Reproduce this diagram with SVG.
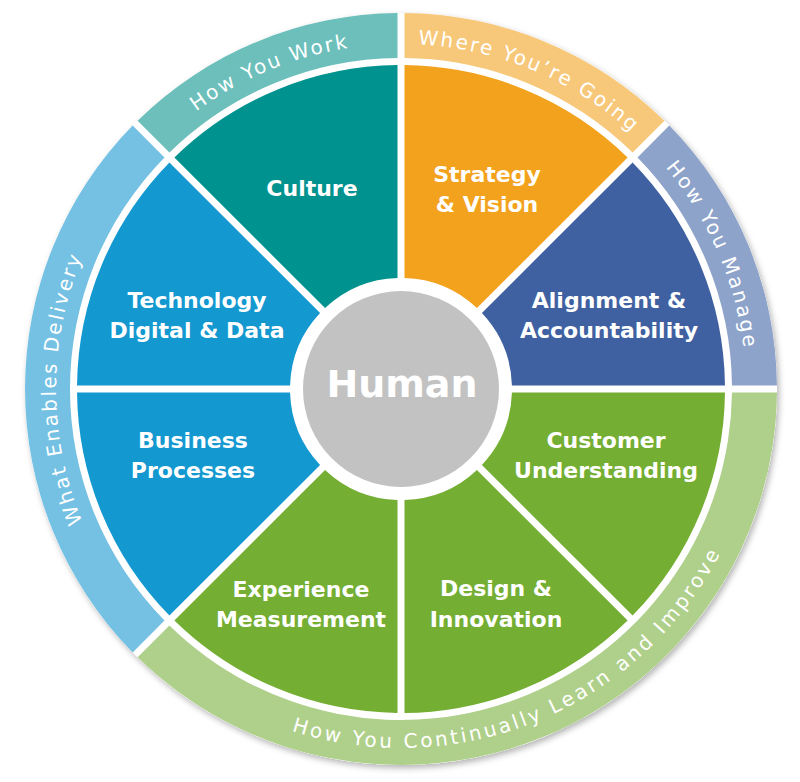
<svg xmlns="http://www.w3.org/2000/svg" width="800" height="782" viewBox="0 0 800 782">
  <defs>
    <filter id="shadow" x="-10%" y="-10%" width="120%" height="120%">
      <feDropShadow dx="2" dy="3" stdDeviation="3" flood-color="#000" flood-opacity="0.3"/>
    </filter>
    <path id="arcWork" d="M 157.05,145.05 A 345 345 0 0 1 401,44"/>
    <path id="arcWhere" d="M 401,44 A 345 345 0 0 1 644.95,145.05"/>
    <path id="arcManage" d="M 644.95,145.05 A 345 345 0 0 1 746,389"/>
    <path id="arcDelivery" d="M 157.05,632.95 A 345 345 0 0 1 157.05,145.05"/>
    <path id="arcLearn" d="M 147.15,642.85 A 359 359 0 0 0 760,389"/>
  </defs>
  <style>
    .lbl { font-family: "DejaVu Sans", "Liberation Sans", sans-serif; font-weight: bold; font-size: 22px; fill: #fff; text-anchor: middle; }
    .ring { font-family: "DejaVu Sans", "Liberation Sans", sans-serif; font-size: 20px; fill: #fff; letter-spacing: 2.2px; }
    .ring-b { font-family: "DejaVu Sans", "Liberation Sans", sans-serif; font-size: 20px; fill: #fff; letter-spacing: 2.9px; }
    .human { font-family: "DejaVu Sans", "Liberation Sans", sans-serif; font-weight: bold; font-size: 38px; fill: #fff; text-anchor: middle; }
  </style>
  <rect width="800" height="782" fill="#fff"/>
  <circle cx="401" cy="389" r="376" fill="#fff" filter="url(#shadow)"/>

  <g id="ring-how-you-work">
    <path d="M 137.62,120.67 A 376 376 0 0 1 397.5,13.02 L 397.5,58.02 A 331 331 0 0 0 169.44,152.49 Z" fill="#6CBFBB"/>
    <text class="ring"><textPath href="#arcWork" startOffset="50%" text-anchor="middle">How You Work</textPath></text>
  </g>
  <g id="ring-where-youre-going">
    <path d="M 404.5,13.02 A 376 376 0 0 1 664.38,120.67 L 632.56,152.49 A 331 331 0 0 0 404.5,58.02 Z" fill="#F8C87A"/>
    <text class="ring"><textPath href="#arcWhere" startOffset="50%" text-anchor="middle">Where You’re Going</textPath></text>
  </g>
  <g id="ring-how-you-manage">
    <path d="M 669.33,125.62 A 376 376 0 0 1 776.98,385.5 L 731.98,385.5 A 331 331 0 0 0 637.51,157.44 Z" fill="#8DA3CA"/>
    <text class="ring"><textPath href="#arcManage" startOffset="138.7" text-anchor="end">How You&#160;</textPath></text>
    <text class="ring"><textPath href="#arcManage" startOffset="138.7" text-anchor="start">Manage</textPath></text>
  </g>
  <g id="ring-learn-improve">
    <path d="M 776.98,392.5 A 376 376 0 0 1 137.62,657.33 L 169.44,625.51 A 331 331 0 0 0 731.98,392.5 Z" fill="#AFD08A"/>
    <text class="ring-b"><textPath href="#arcLearn" startOffset="438.8" text-anchor="end">How You Continually&#160;</textPath></text>
    <text class="ring-b"><textPath href="#arcLearn" startOffset="438.8" text-anchor="start">Learn&#160;</textPath></text>
    <text class="ring-b"><textPath href="#arcLearn" startOffset="519.2" text-anchor="start">and Improve</textPath></text>
  </g>
  <g id="ring-what-enables-delivery">
    <path d="M 132.67,652.38 A 376 376 0 0 1 132.67,125.62 L 164.49,157.44 A 331 331 0 0 0 164.49,620.56 Z" fill="#74C1E4"/>
    <text class="ring"><textPath href="#arcDelivery" startOffset="50%" text-anchor="middle">What Enables Delivery</textPath></text>
  </g>

  <g id="culture">
    <path d="M 325.03,308.08 L 174.38,157.43 A 324 324 0 0 1 397.5,65.02 L 397.5,278.06 A 111 111 0 0 0 325.03,308.08 Z" fill="#00928E"/>
    <text class="lbl" x="312" y="196">Culture</text>
  </g>
  <g id="strategy-vision">
    <path d="M 404.5,278.06 L 404.5,65.02 A 324 324 0 0 1 627.62,157.43 L 476.97,308.08 A 111 111 0 0 0 404.5,278.06 Z" fill="#F3A21D"/>
    <text class="lbl" x="487" y="182">Strategy</text>
    <text class="lbl" x="487" y="212">&amp; Vision</text>
  </g>
  <g id="alignment-accountability">
    <path d="M 481.92,313.03 L 632.57,162.38 A 324 324 0 0 1 724.98,385.5 L 511.94,385.5 A 111 111 0 0 0 481.92,313.03 Z" fill="#3F61A1"/>
    <text class="lbl" x="609" y="308">Alignment &amp;</text>
    <text class="lbl" x="609" y="338">Accountability</text>
  </g>
  <g id="customer-understanding">
    <path d="M 511.94,392.5 L 724.98,392.5 A 324 324 0 0 1 632.57,615.62 L 481.92,464.97 A 111 111 0 0 0 511.94,392.5 Z" fill="#74AE32"/>
    <text class="lbl" x="606" y="448">Customer</text>
    <text class="lbl" x="606" y="478">Understanding</text>
  </g>
  <g id="design-innovation">
    <path d="M 476.97,469.92 L 627.62,620.57 A 324 324 0 0 1 404.5,712.98 L 404.5,499.94 A 111 111 0 0 0 476.97,469.92 Z" fill="#74AE32"/>
    <text class="lbl" x="496" y="596">Design &amp;</text>
    <text class="lbl" x="496" y="627">Innovation</text>
  </g>
  <g id="experience-measurement">
    <path d="M 397.5,499.94 L 397.5,712.98 A 324 324 0 0 1 174.38,620.57 L 325.03,469.92 A 111 111 0 0 0 397.5,499.94 Z" fill="#74AE32"/>
    <text class="lbl" x="301" y="597">Experience</text>
    <text class="lbl" x="301" y="627">Measurement</text>
  </g>
  <g id="business-processes">
    <path d="M 320.08,464.97 L 169.43,615.62 A 324 324 0 0 1 77.02,392.5 L 290.06,392.5 A 111 111 0 0 0 320.08,464.97 Z" fill="#1498D0"/>
    <text class="lbl" x="193" y="448">Business</text>
    <text class="lbl" x="193" y="478">Processes</text>
  </g>
  <g id="technology-digital-data">
    <path d="M 290.06,385.5 L 77.02,385.5 A 324 324 0 0 1 169.43,162.38 L 320.08,313.03 A 111 111 0 0 0 290.06,385.5 Z" fill="#1498D0"/>
    <text class="lbl" x="197" y="308">Technology</text>
    <text class="lbl" x="197" y="338">Digital &amp; Data</text>
  </g>

  <g id="human">
    <circle cx="401" cy="389" r="98" fill="#C2C2C2"/>
    <text class="human" x="402" y="397">Human</text>
  </g>
</svg>
